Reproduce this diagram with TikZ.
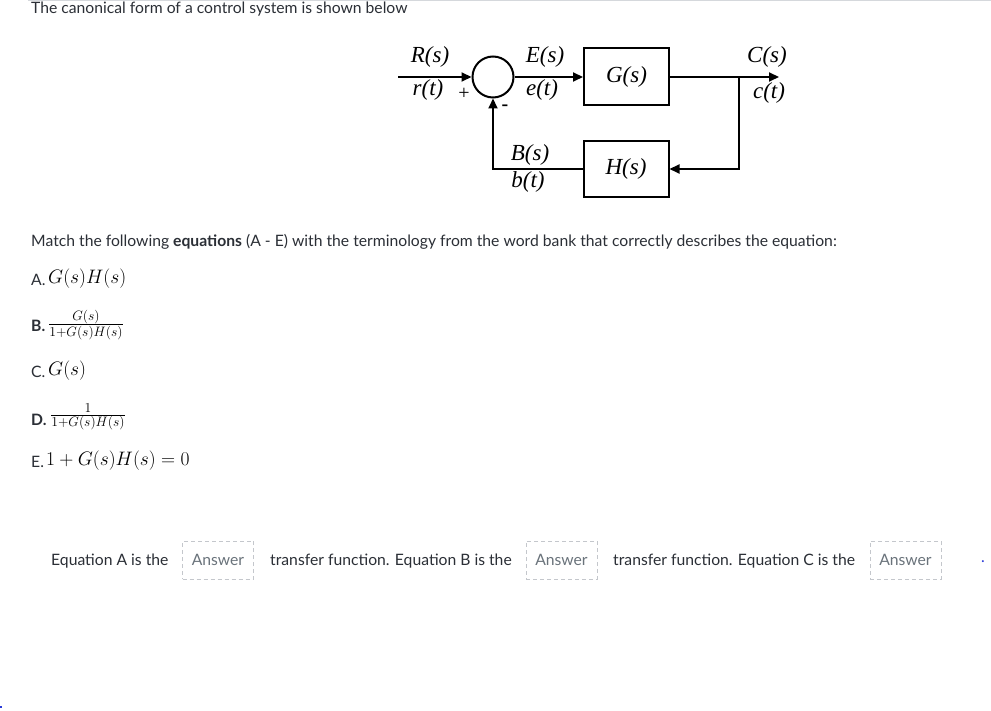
\RequirePackage{fix-cm}
\documentclass[tikz,border=0pt]{standalone}
\usepackage{fontspec}
\usetikzlibrary{arrows.meta}
\newfontfamily\lato{Lato}
\newfontfamily\tnr{Liberation Serif}
\definecolor{txt}{HTML}{2B2F36}
\definecolor{anscol}{HTML}{6A737B}
\definecolor{boxgray}{HTML}{C4C7CC}
\definecolor{rulegray}{HTML}{D5D8DC}
\definecolor{dotblue}{HTML}{2A3BD8}
\begin{document}
\begin{tikzpicture}[x=1pt,y=-1pt,
  body/.style={anchor=west,inner sep=0pt,text=txt,font=\lato\fontsize{15.7}{18}\selectfont},
  eqn/.style={anchor=west,inner sep=0pt,text=black,font=\fontsize{19.5}{23}\selectfont},
  lbl/.style={inner sep=0pt,font=\tnr\itshape\fontsize{23}{26}\selectfont},
  blk/.style={draw,line width=2pt,minimum width=85pt,minimum height=57pt,inner sep=0pt,font=\tnr\itshape\fontsize{23}{26}\selectfont},
  sig/.style={line width=2pt,-{Triangle[length=10pt,width=9pt]}},
  wire/.style={line width=2pt},
  ansbox/.style={draw=boxgray,dashed,dash pattern=on 4pt off 3pt,line width=1pt,minimum width=71pt,minimum height=38pt,inner sep=0pt,text=anscol,font=\lato\fontsize{15.7}{18}\selectfont}]
\useasboundingbox (0,0) rectangle (991,711);
\fill[white] (0,0) rectangle (991,711);
\draw[rulegray,line width=1pt] (28,1) -- (991,1);
\node[body] (title) at (31,9) {The canonical form of a control system is shown below};
% block diagram
\node[circle,draw,line width=2pt,minimum size=41pt,inner sep=0pt] (sum) at (493,77) {};
\node[blk] (G) at (626.5,77) {G(s)};
\node[blk,minimum height=56pt] (H) at (626,169) {H(s)};
\coordinate (in) at (398,77);
\coordinate (br) at (739,77);
\coordinate (out) at (779,77);
\draw[sig] (in) -- (sum.west);
\draw[sig] (sum.east) -- (G.west);
\draw[wire] (G.east) -- (br);
\draw[sig] (br) -- (out);
\draw[sig] (br) |- (H.east);
\draw[sig] (H.west) -| (sum.south);
\node[lbl] (Rs) at (430,57) {R(s)};
\node[lbl] (rt) at (428,90) {r(t)};
\node[lbl,font=\tnr\fontsize{20}{22}\selectfont] (plus) at (464,94) {+};
\node[lbl] (Es) at (545,57) {E(s)};
\node[lbl] (et) at (542,90) {e(t)};
\node[lbl,font=\tnr\bfseries\fontsize{20}{22}\selectfont] (minus) at (505,108) {-};
\node[lbl] (Cs) at (767,57) {C(s)};
\node[lbl] (ct) at (769,93) {c(t)};
\node[lbl] (Bs) at (530,155) {B(s)};
\node[lbl] (bt) at (528,182) {b(t)};
% question
\node[body] (q) at (31,242) {Match the following \textbf{equations} (A - E) with the terminology from the word bank that correctly describes the equation:};
\node[body] (la) at (31,280) {A.};
\node[eqn] (ea) at (48,279) {$G(s)H(s)$};
\node[body] (lb) at (31,326) {\textbf{B.}};
\node[eqn] (eb) at (48,325) {$\frac{G(s)}{1+G(s)H(s)}$};
\node[body] (lc) at (31,372) {C.};
\node[eqn] (ec) at (48,371) {$G(s)$};
\node[body] (ld) at (31,420) {\textbf{D.}};
\node[eqn] (ed) at (50,417) {$\frac{1}{1+G(s)H(s)}$};
\node[body] (le) at (31,462) {E.};
\node[eqn] (ee) at (46,461) {$1+G(s)H(s)=0$};
% answers
\node[body] (s1) at (51,561) {Equation A is the};
\node[ansbox] (a1) at (218,560) {Answer};
\node[body] (s2) at (270,561) {transfer function. Equation B is the};
\node[ansbox] (a2) at (561.5,560) {Answer};
\node[body] (s3) at (613,561) {transfer function. Equation C is the};
\node[ansbox] (a3) at (905.5,560) {Answer};
\node[body,text=dotblue] (dot) at (981,562) {.};
\fill[dotblue] (0,706) rectangle (2,708);
\end{tikzpicture}
\end{document}
